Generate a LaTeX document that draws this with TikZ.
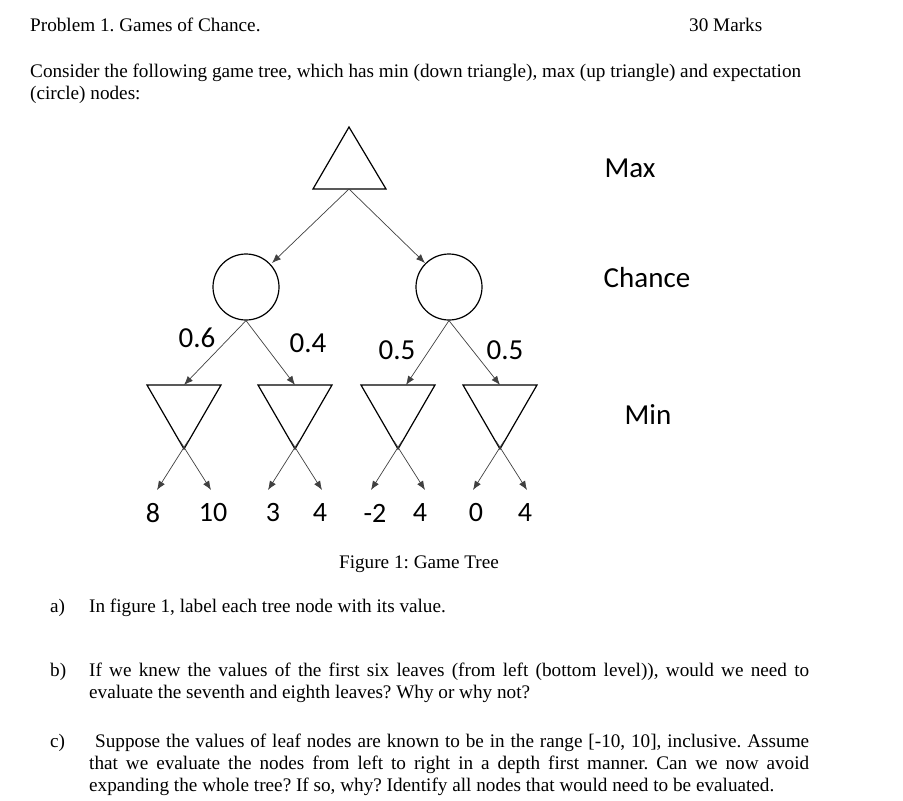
\documentclass[tikz,border=0pt]{standalone}
\usepackage{fontspec}
\setmainfont{Liberation Serif}
\newfontfamily\carlitofont{Carlito}
\usetikzlibrary{arrows.meta}
\frenchspacing
\begin{document}
\begin{tikzpicture}[x=1pt,y=-1pt,
  txt/.style={anchor=base west,inner sep=0pt,font=\fontsize{19.2}{22}\selectfont},
  lab/.style={inner sep=0pt,font=\carlitofont\fontsize{29}{30}\selectfont},
  edge/.style={draw=black!75,line width=0.7pt,-{Latex[length=9pt,width=7pt]}},
  shp/.style={draw,line width=1.2pt}]
\useasboundingbox (0,0) rectangle (903,801);
\node[txt] (t1) at (30,31) {Problem 1. Games of Chance.};
\node[txt] (t2) at (689,31) {30 Marks};
\node[txt] (t3) at (30,77) {Consider the following game tree, which has min (down triangle), max (up triangle) and expectation};
\node[txt] (t4) at (30,99) {(circle) nodes:};
% tree
\draw[shp] (349,127) -- (386,189) -- (313,189) -- cycle;
\coordinate (r) at (349,189);
\node[shp,circle,minimum size=66pt,inner sep=0pt] (c1) at (246,287) {};
\node[shp,circle,minimum size=66pt,inner sep=0pt] (c2) at (449,287) {};
\draw[edge] (r) -- (272,263);
\draw[edge] (r) -- (425,263);
\foreach \i/\x in {1/184,2/295,3/398,4/500}{
  \draw[shp] (\x-37,385) -- (\x+37,385) -- (\x,449) -- cycle;
  \coordinate (m\i) at (\x,385);
}
\draw[edge] (c1.south) -- (m1);
\draw[edge] (c1.south) -- (m2);
\draw[edge] (c2.south) -- ([xshift=8pt]m3);
\draw[edge] (c2.south) -- (m4);
\foreach \i/\x in {1/184,2/295,3/398,4/500}{
  \draw[edge] (\x+4,441) -- (\x-27,490);
  \draw[edge] (\x-4,441) -- (\x+27,490);
}
\foreach \t/\x in {8/153,10/213,3/273,4/320,-2/375,4/420,0/476,4/525}{
  \node[lab,font=\carlitofont\fontsize{28}{30}\selectfont] at (\x,513) {\t};
}
\node[lab] (p1) at (197,338) {0.6};
\node[lab] (p2) at (308,343) {0.4};
\node[lab] (p3) at (397,350) {0.5};
\node[lab] (p4) at (505,350) {0.5};
\node[lab] (mx) at (630,168) {Max};
\node[lab] (ch) at (647,278) {Chance};
\node[lab] (mn) at (648,415) {Min};
\node[txt,anchor=base] (cap) at (419,568) {Figure 1: Game Tree};
\node[txt] (a) at (50,612) {a)};
\node[txt] (at) at (89,612) {In figure 1, label each tree node with its value.};
\node[txt] (b) at (50,676) {b)};
\node[txt] (b1) at (89,676) {\makebox[720pt][s]{If we knew the values of the first six leaves (from left (bottom level)), would we need to}};
\node[txt] (b2) at (89,698) {evaluate the seventh and eighth leaves? Why or why not?};
\node[txt] (c) at (50,747) {c)};
\node[txt] (c1t) at (95,747) {\makebox[714pt][s]{Suppose the values of leaf nodes are known to be in the range [-10, 10], inclusive. Assume}};
\node[txt] (c2t) at (89,769) {\makebox[720pt][s]{that we evaluate the nodes from left to right in a depth first manner. Can we now avoid}};
\node[txt] (c3t) at (89,791) {expanding the whole tree? If so, why? Identify all nodes that would need to be evaluated.};
\end{tikzpicture}
\end{document}
